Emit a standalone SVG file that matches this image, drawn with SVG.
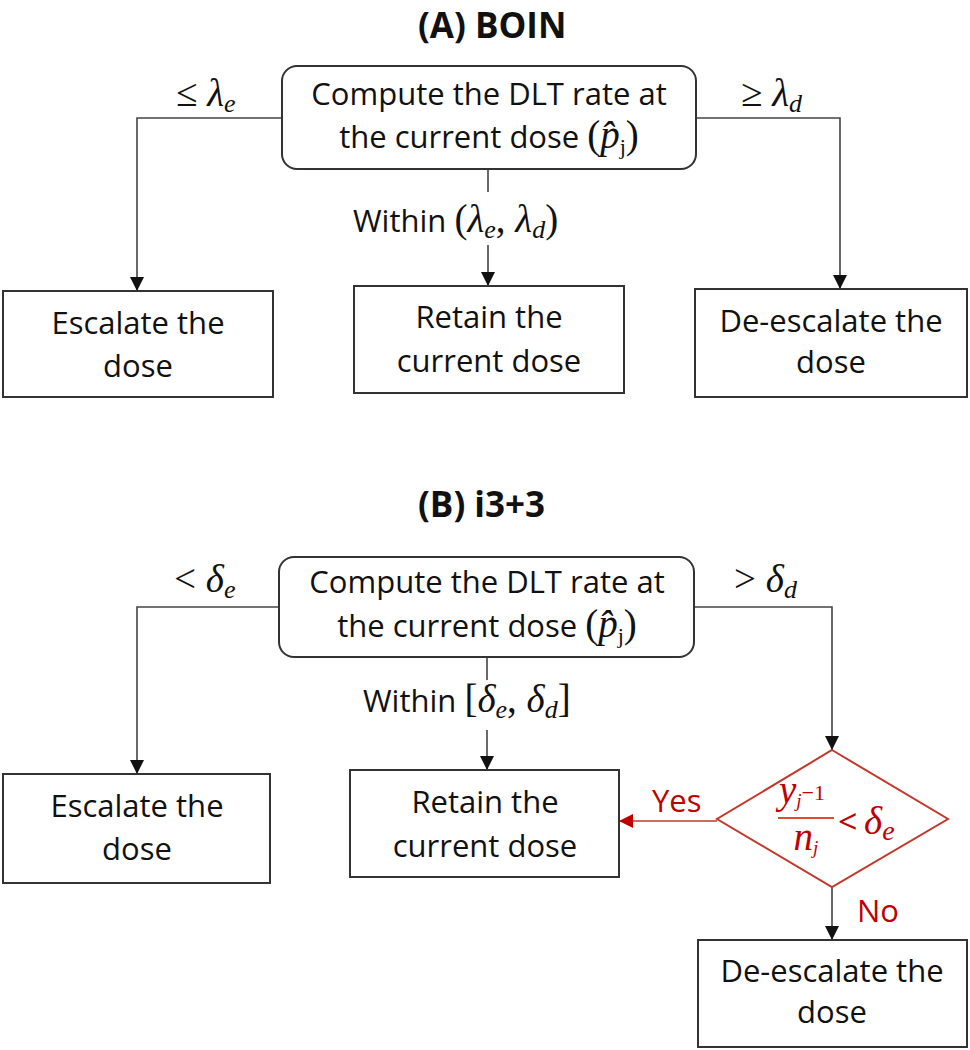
<svg xmlns="http://www.w3.org/2000/svg" width="970" height="1050" viewBox="0 0 970 1050">
<defs>
<style>
.t{font-family:"Open Sans","Noto Sans","Liberation Sans",sans-serif;font-size:31px;fill:#111;}
.title{font-family:"Open Sans","Noto Sans","Liberation Sans",sans-serif;font-size:35px;font-weight:bold;fill:#111;}
.m{font-family:"Liberation Serif","DejaVu Serif",serif;font-size:39px;fill:#111;}
.mi{font-style:italic;}
.sb{font-size:26px;}
.box{fill:#fff;stroke:#333;stroke-width:2;}
.conn{fill:none;stroke:#444;stroke-width:1.6;}
.red{fill:#C00000;}
.redline{fill:none;stroke:#C0392B;stroke-width:1.6;}
</style>
<marker id="ah" markerUnits="userSpaceOnUse" markerWidth="14" markerHeight="14" refX="14" refY="7" orient="auto">
<path d="M0,0 L14,7 L0,14 z" fill="#111"/>
</marker>
<marker id="ahr" markerUnits="userSpaceOnUse" markerWidth="14" markerHeight="14" refX="14" refY="7" orient="auto">
<path d="M0,0 L14,7 L0,14 z" fill="#C00000"/>
</marker>
</defs>
<rect width="970" height="1050" fill="#fff"/>

<text class="title" x="418" y="38">(A) BOIN</text>
<text class="title" x="418" y="517">(B) i3+3</text>

<g id="connectors">
<path class="conn" d="M282,118 H137 V291" marker-end="url(#ah)"/>
<path class="conn" d="M696,118 H840 V289" marker-end="url(#ah)"/>
<path class="conn" d="M488,169 V192"/>
<path class="conn" d="M488,245 V286" marker-end="url(#ah)"/>
<path class="conn" d="M279,607 H137 V774" marker-end="url(#ah)"/>
<path class="conn" d="M694,607 H832 V750" marker-end="url(#ah)"/>
<path class="conn" d="M487,657 V680"/>
<path class="conn" d="M487,730 V770" marker-end="url(#ah)"/>
<path class="redline" d="M717,821 H619" marker-end="url(#ahr)"/>
<path class="conn" d="M832,887 V940" marker-end="url(#ah)"/>
</g>

<g id="labels">
<text class="m" x="176" y="106">≤ <tspan class="mi">λ</tspan><tspan class="mi sb" dy="6">e</tspan></text>
<text class="m" x="741" y="106">≥ <tspan class="mi">λ</tspan><tspan class="mi sb" dy="6">d</tspan></text>
<text x="353" y="232"><tspan class="t">Within </tspan><tspan class="m">(<tspan class="mi">λ</tspan><tspan class="mi sb" dy="6">e</tspan><tspan dy="-6">, </tspan><tspan class="mi">λ</tspan><tspan class="mi sb" dy="6">d</tspan><tspan dy="-6">)</tspan></tspan></text>
<text class="m" x="174" y="592">&lt; <tspan class="mi">δ</tspan><tspan class="mi sb" dy="6">e</tspan></text>
<text class="m" x="734" y="592">&gt; <tspan class="mi">δ</tspan><tspan class="mi sb" dy="6">d</tspan></text>
<text x="363" y="712"><tspan class="t">Within </tspan><tspan class="m">[<tspan class="mi">δ</tspan><tspan class="mi sb" dy="6">e</tspan><tspan dy="-6">, </tspan><tspan class="mi">δ</tspan><tspan class="mi sb" dy="6">d</tspan><tspan dy="-6">]</tspan></tspan></text>
<text class="t red" x="652" y="812" font-size="28">Yes</text>
<text class="t red" x="857" y="922" font-size="28">No</text>
</g>

<g id="nodeA-compute">
<rect class="box" x="282" y="66" width="414" height="103" rx="15"/>
<text class="t" x="489" y="105" text-anchor="middle">Compute the DLT rate at</text>
<text x="489" y="148" text-anchor="middle"><tspan class="t">the current dose </tspan><tspan class="m" font-size="34">(<tspan class="mi">p̂</tspan><tspan font-size="22" dy="6">j</tspan><tspan dy="-6">)</tspan></tspan></text>
</g>
<g id="nodeA-escalate">
<rect class="box" x="3" y="291" width="270" height="106"/>
<text class="t" x="138" y="334" text-anchor="middle">Escalate the</text>
<text class="t" x="138" y="377" text-anchor="middle">dose</text>
</g>
<g id="nodeA-retain">
<rect class="box" x="354" y="286" width="270" height="107"/>
<text class="t" x="489" y="328" text-anchor="middle">Retain the</text>
<text class="t" x="489" y="372" text-anchor="middle">current dose</text>
</g>
<g id="nodeA-deescalate">
<rect class="box" x="695" y="289" width="272" height="108"/>
<text class="t" x="831" y="332" text-anchor="middle">De-escalate the</text>
<text class="t" x="831" y="373" text-anchor="middle">dose</text>
</g>

<g id="nodeB-compute">
<rect class="box" x="279" y="557" width="415" height="100" rx="15"/>
<text class="t" x="487" y="593" text-anchor="middle">Compute the DLT rate at</text>
<text x="487" y="637" text-anchor="middle"><tspan class="t">the current dose </tspan><tspan class="m" font-size="34">(<tspan class="mi">p̂</tspan><tspan font-size="22" dy="6">j</tspan><tspan dy="-6">)</tspan></tspan></text>
</g>
<g id="nodeB-escalate">
<rect class="box" x="3" y="774" width="267" height="109"/>
<text class="t" x="137" y="817" text-anchor="middle">Escalate the</text>
<text class="t" x="137" y="860" text-anchor="middle">dose</text>
</g>
<g id="nodeB-retain">
<rect class="box" x="350" y="770" width="269" height="107"/>
<text class="t" x="485" y="813" text-anchor="middle">Retain the</text>
<text class="t" x="485" y="857" text-anchor="middle">current dose</text>
</g>
<g id="nodeB-decision">
<polygon points="832,750 948,819 832,887 717,819" fill="#fff" stroke="#C0392B" stroke-width="2"/>
<text class="m mi red" x="779" y="803" font-size="28">y<tspan font-size="19" dy="4">j</tspan><tspan font-style="normal" font-size="22" dy="-7">−1</tspan></text>
<line x1="778" y1="818" x2="834" y2="818" stroke="#D9502E" stroke-width="2.2"/>
<text class="m mi red" x="806" y="850" font-size="28" text-anchor="middle">n<tspan font-size="19" dy="4">j</tspan></text>
<text class="red" x="838" y="834" font-family="Open Sans, sans-serif" font-size="34">&lt;</text>
<text class="m mi red" x="864" y="834" font-size="42">δ<tspan font-size="28" dy="6">e</tspan></text>
</g>
<g id="nodeB-deescalate">
<rect class="box" x="698" y="940" width="269" height="107"/>
<text class="t" x="832" y="982" text-anchor="middle">De-escalate the</text>
<text class="t" x="832" y="1023" text-anchor="middle">dose</text>
</g>
</svg>
